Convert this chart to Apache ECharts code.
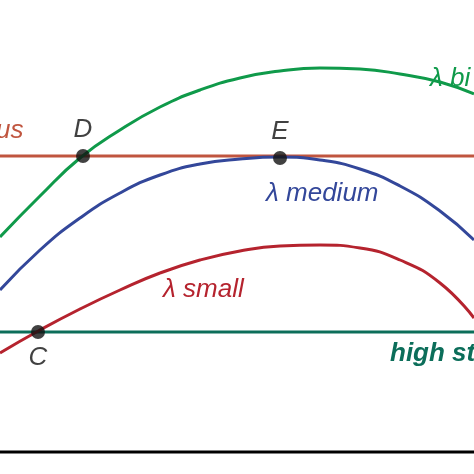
<!DOCTYPE html><html><head><meta charset="utf-8"><script src="https://cdn.jsdelivr.net/npm/echarts@6/dist/echarts.min.js"></script></head><body style="margin:0"><div id="c" style="width:474px;height:474px"></div><script>
const xs=[0,40,80,120,160,200,240,280,320,360,400,440,474];
const bigLam=[237,196,158,130,107,90,78,71,68,69,74,82,94];
const medLam=[290,250,218,193,175,164,159,157,160,169,186,211,240];
const smallLam=[353,330,309,290,273,260,251,246,245,248,260,283,318];
const hLine1=[156,156];const hLine2=[332,332];const axisY=[452,452];
const pts=[{n:'D',x:83,y:156,pos:'top'},{n:'E',x:280,y:158,pos:'top'},{n:'C',x:38,y:332,pos:'bottom'}];
const ch=echarts.init(document.getElementById('c'));
const curve=(d,c)=>({type:'line',smooth:true,symbol:'none',data:xs.map((x,i)=>[x,d[i]]),lineStyle:{color:c,width:3}});
const hl=(d,c,w)=>({type:'line',symbol:'none',data:[[0,d[0]],[474,d[1]]],lineStyle:{color:c,width:w}});
ch.setOption({animation:false,
grid:{left:0,right:0,top:0,bottom:0},
xAxis:{type:'value',min:0,max:474,show:false},
yAxis:{type:'value',min:0,max:474,inverse:true,show:false},
series:[hl(hLine1,'#c0553f',3),hl(hLine2,'#0c6e5a',3),hl(axisY,'#000',3),
curve(bigLam,'#0f9a4a'),curve(medLam,'#33479a'),curve(smallLam,'#b5232e'),
{type:'scatter',symbolSize:14,itemStyle:{color:'#111'},z:5,
data:pts.map(p=>({value:[p.x,p.y],label:{position:p.pos}})),
label:{show:true,formatter:p=>pts[p.dataIndex].n,fontFamily:'Liberation Sans',fontStyle:'italic',fontSize:26,color:'#111',distance:6}}],
graphic:[
{type:'text',left:-4,top:118,style:{text:'us',fill:'#c0553f',font:'italic 26px Liberation Sans'}},
{type:'text',left:430,top:66,style:{text:'λ bi',fill:'#0f9a4a',font:'italic 26px Liberation Sans'}},
{type:'text',left:266,top:181,style:{text:'λ medium',fill:'#33479a',font:'italic 26px Liberation Sans'}},
{type:'text',left:163,top:277,style:{text:'λ small',fill:'#b5232e',font:'italic 26px Liberation Sans'}},
{type:'text',left:390,top:341,style:{text:'high st',fill:'#0c6e5a',font:'italic bold 26px Liberation Sans'}}
]});
</script></body></html>
